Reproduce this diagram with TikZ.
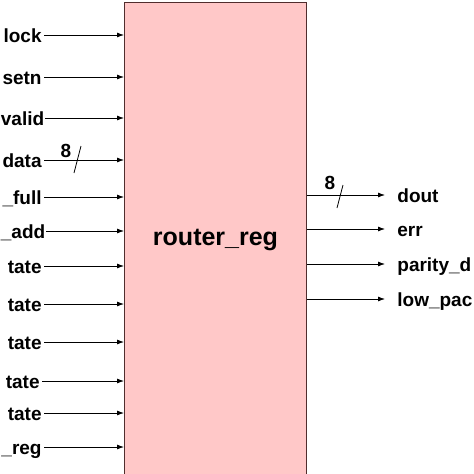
\documentclass[tikz,border=0pt]{standalone}
\usepackage{fontspec}
\setmainfont{Liberation Sans}
\usetikzlibrary{arrows.meta}
\definecolor{regfill}{RGB}{255,200,200}
\definecolor{regedge}{RGB}{80,45,45}
\begin{document}
\begin{tikzpicture}[x=1pt,y=-1pt,>={Latex[length=7pt,width=5pt]},line width=0.8pt,
	lbl/.style={font=\bfseries\fontsize{19}{19}\selectfont, inner sep=2pt,
		text height=14pt, text depth=0pt},
	busw/.style={font=\bfseries\fontsize{19}{19}\selectfont, inner sep=0pt}]
		\clip (0,0) rectangle (474,474);
		\useasboundingbox (0,0) rectangle (474,474);
		\node[draw=regedge, fill=regfill, line width=1pt, anchor=north west,
		minimum width=182pt, minimum height=474pt, inner sep=0pt,
		font=\bfseries\fontsize{25}{25}\selectfont] (reg) at (124,2) {router\_reg};
		% inputs
		\node[lbl, anchor=east] (clk) at (44,35) {lock};
		\draw[->] (clk) -- (reg.west |- clk);
		\node[lbl, anchor=east] (rstn) at (44,77) {setn};
		\draw[->] (rstn) -- (reg.west |- rstn);
		\node[lbl, anchor=west, inner xsep=0.5pt] (pval) at (0,118) {valid};
		\draw[->] (pval) -- (reg.west |- pval);
		\node[lbl, anchor=east] (din) at (44,160) {data};
		\draw[->] (din) -- (reg.west |- din);
		\draw (74,173) -- (81,146);
		\node[busw] (dinw) at (66,151) {8};
		\node[lbl, anchor=east] (ffull) at (44,197) {\_full};
		\draw[->] (ffull) -- (reg.west |- ffull);
		\node[lbl, anchor=west, inner xsep=0.5pt] (dadd) at (0,231) {\_add};
		\draw[->] (dadd) -- (reg.west |- dadd);
		\node[lbl, anchor=east] (sa) at (44,266) {tate};
		\draw[->] (sa) -- (reg.west |- sa);
		\node[lbl, anchor=east] (sb) at (44,304) {tate};
		\draw[->] (sb) -- (reg.west |- sb);
		\node[lbl, anchor=east] (sc) at (44,342) {tate};
		\draw[->] (sc) -- (reg.west |- sc);
		\node[lbl, anchor=east] (sd) at (42,381) {tate};
		\draw[->] (sd) -- (reg.west |- sd);
		\node[lbl, anchor=east] (se) at (44,413) {tate};
		\draw[->] (se) -- (reg.west |- se);
		\node[lbl, anchor=east] (rreg) at (44,447) {\_reg};
		\draw[->] (rreg) -- (reg.west |- rreg);
		% outputs
		\node[lbl, anchor=west] (dout) at (395,195) {dout};
		\draw[->, shorten >=10pt] (reg.east |- dout) -- (dout);
		\draw (337,208) -- (343,185);
		\node[busw] (doutw) at (330,183) {8};
		\node[lbl, anchor=west] (err) at (395,229) {err};
		\draw[->, shorten >=10pt] (reg.east |- err) -- (err);
		\node[lbl, anchor=west] (pdone) at (395,264) {parity\_d};
		\draw[->, shorten >=10pt] (reg.east |- pdone) -- (pdone);
		\node[lbl, anchor=west] (lpv) at (395,299) {low\_pac};
		\draw[->, shorten >=10pt] (reg.east |- lpv) -- (lpv);
	\end{tikzpicture}
\end{document}
